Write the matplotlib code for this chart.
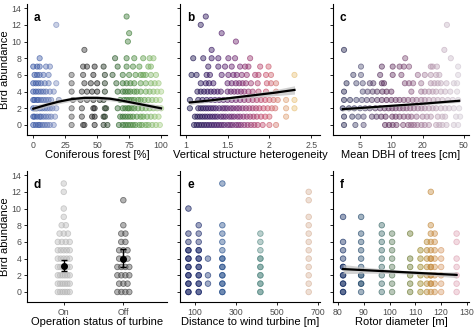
import numpy as np
import matplotlib
matplotlib.use("Agg")
import matplotlib.pyplot as plt
from matplotlib.colors import LinearSegmentedColormap, to_rgba
from matplotlib.ticker import FixedLocator, NullLocator, FuncFormatter

plt.rcParams['font.family'] = ['Liberation Sans', 'DejaVu Sans']

# --- a: coniferous forest [%], x values listed per bird count (index = count)
conif_by_count = [
    [0, 2, 4, 5, 7, 9, 11, 13, 16, 30, 39, 40, 48, 55, 58, 67, 70, 72, 74, 76, 78, 80, 83, 85, 88, 90, 93, 96, 99],
    [0, 1, 3, 5, 6, 8, 10, 12, 14, 17, 30, 38, 46, 48, 55, 56, 68, 70, 72, 74, 76, 78, 81, 84, 86, 89, 92, 95, 98],
    [0, 2, 3, 5, 7, 9, 11, 13, 15, 18, 30, 38, 47, 48, 56, 57, 66, 70, 72, 74, 75, 77, 79, 82, 85, 88, 91, 94, 97, 100],
    [0, 1, 3, 4, 6, 8, 10, 12, 14, 20, 31, 37, 42, 47, 52, 55, 68, 71, 73, 75, 77, 79, 82, 84, 87, 90, 93, 96, 99],
    [0, 2, 4, 6, 8, 10, 13, 16, 30, 38, 42, 46, 50, 56, 66, 70, 72, 74, 76, 79, 81, 84, 88, 91, 94, 97, 100],
    [0, 2, 4, 6, 9, 12, 18, 30, 40, 45, 50, 56, 65, 70, 73, 76, 79, 84, 88, 92, 95, 98],
    [1, 3, 5, 8, 12, 30, 39, 47, 56, 62, 70, 75, 80, 84, 86, 88, 92, 96],
    [0, 3, 5, 10, 13, 39, 42, 48, 55, 66, 73, 78, 83, 90, 92],
    [5, 64, 73, 79, 86, 91, 94],
    [40],
    [74],
    [75],
    [18],
    [73],
]
conif_fit_x = [0, 10, 20, 30, 40, 50, 60, 70, 80, 90, 100]
conif_fit_y = [1.95, 2.4, 2.8, 3.1, 3.25, 3.25, 3.15, 2.9, 2.6, 2.3, 2.0]
conif_fit_lo = [1.6, 2.15, 2.55, 2.85, 3.0, 3.0, 2.9, 2.7, 2.4, 2.05, 1.7]
conif_fit_hi = [2.35, 2.7, 3.05, 3.35, 3.5, 3.5, 3.4, 3.15, 2.85, 2.6, 2.35]

# --- b: vertical structure heterogeneity
het_by_count = [
    [1.1, 1.13, 1.16, 1.19, 1.22, 1.25, 1.28, 1.31, 1.34, 1.37, 1.4, 1.43, 1.46, 1.5, 1.53, 1.56, 1.6, 1.63, 1.66, 1.7, 1.74, 1.78, 1.82, 1.86, 1.92, 2.0, 2.08],
    [1.11, 1.14, 1.17, 1.2, 1.23, 1.26, 1.29, 1.32, 1.35, 1.38, 1.42, 1.45, 1.48, 1.52, 1.55, 1.58, 1.62, 1.65, 1.69, 1.73, 1.77, 1.81, 1.85, 1.9, 1.95, 2.0, 2.2],
    [1.05, 1.15, 1.18, 1.21, 1.24, 1.27, 1.3, 1.33, 1.36, 1.4, 1.44, 1.47, 1.5, 1.54, 1.57, 1.61, 1.64, 1.68, 1.72, 1.76, 1.8, 1.84, 1.88, 1.93, 1.98, 2.03, 2.07, 2.2, 2.3],
    [1.05, 1.15, 1.2, 1.25, 1.3, 1.35, 1.4, 1.45, 1.5, 1.55, 1.6, 1.65, 1.7, 1.75, 1.8, 1.85, 1.9, 1.95, 2.0, 2.05, 2.1, 2.2, 2.3],
    [1.14, 1.18, 1.22, 1.26, 1.3, 1.34, 1.38, 1.42, 1.5, 1.54, 1.58, 1.62, 1.66, 1.7, 1.75, 1.8, 1.87, 1.96, 2.08],
    [1.18, 1.24, 1.28, 1.33, 1.5, 1.55, 1.6, 1.64, 1.68, 1.72, 1.78, 1.86, 1.97, 2.02, 2.08],
    [1.07, 1.13, 1.25, 1.29, 1.43, 1.51, 1.57, 1.61, 1.67, 1.73, 1.83, 1.87, 1.96, 2.02, 2.3],
    [1.27, 1.39, 1.47, 1.55, 1.65, 1.71, 1.75, 1.89, 1.99],
    [1.09, 1.21, 1.31, 1.39, 1.51, 1.59, 1.77],
    [1.31],
    [1.6],
    [1.43],
    [1.18],
    [1.24],
]
het_fit_x = [1.05, 1.3, 1.55, 1.8, 2.05, 2.3]
het_fit_y = [2.7, 2.95, 3.25, 3.55, 3.85, 4.2]
het_fit_lo = [2.45, 2.75, 3.05, 3.3, 3.5, 3.7]
het_fit_hi = [2.95, 3.15, 3.45, 3.8, 4.2, 4.7]

# --- c: mean DBH of trees [cm]
dbh_by_count = [
    [3.5, 4.5, 5.4, 8.7, 9.5, 10.3, 11.2, 13, 14.5, 15.5, 16.5, 17.8, 19.5, 21, 23, 27, 29, 31, 34, 40, 44],
    [3.5, 4.2, 4.8, 5.4, 6.5, 7.2, 8.0, 8.8, 10.2, 11, 12, 13.2, 14.5, 15.6, 17.5, 20, 22, 24, 28, 31, 33, 42, 46],
    [3.4, 3.9, 4.4, 5.0, 5.6, 6.2, 7.0, 7.8, 8.6, 9.4, 10.2, 11, 12, 13, 14, 15.2, 16.5, 18, 19.5, 21, 23, 25, 27, 30, 33, 36, 40, 45],
    [3.5, 4.0, 4.6, 5.2, 5.8, 6.5, 7.3, 8.1, 9, 10, 11, 12, 13.2, 14.5, 16, 17.5, 19.4, 21, 23, 25.5, 28, 31, 35, 39, 44],
    [3.5, 5.3, 5.9, 6.6, 7.3, 8.2, 9, 10, 15.6, 19.4, 21, 23, 25, 27, 30, 33, 37, 43],
    [3.7, 4.6, 5.3, 6.2, 6.7, 8.1, 8.5, 13.5, 14.8, 16.2, 19.4, 24, 26, 28, 30, 34, 40, 43],
    [4.3, 5.1, 7.8, 10.3, 12.5, 18, 21, 24, 27, 29, 44],
    [5.1, 8.1, 10.3, 12, 13.2, 14.8, 24, 25, 27.5, 44],
    [13.6, 37.4],
    [3.5, 32.4],
    [],
    [],
    [34.3],
]
dbh_fit_x = [3.4, 6, 10, 20, 45]
dbh_fit_y = [1.9, 2.1, 2.3, 2.55, 2.9]
dbh_fit_lo = [1.7, 1.95, 2.18, 2.42, 2.7]
dbh_fit_hi = [2.1, 2.25, 2.42, 2.68, 3.1]

# --- d: operation status of turbine
status_labels = ['On', 'Off']
on_birds = [0, 0, 0, 0, 0, 0, 1, 1, 1, 1, 1, 1, 2, 2, 2, 2, 2, 2, 3, 3, 3, 3, 3, 3,
            4, 4, 4, 4, 4, 5, 5, 5, 5, 5, 6, 6, 6, 6, 7, 7, 7, 8, 8, 9, 10, 12, 13]
off_birds = [0, 0, 0, 0, 1, 1, 1, 2, 2, 2, 2, 3, 3, 3, 3, 4, 4, 4, 5, 5, 5, 6, 6, 7, 7, 8, 11]
status_mean = [3.1, 4.0]
status_lo = [2.5, 2.95]
status_hi = [3.8, 5.1]

# --- e: distance to wind turbine [m]
dist_m = [70, 120, 165, 235, 420, 655]
dist_birds = [
    [0, 0, 1, 1, 2, 2, 3, 3, 4, 4, 5, 5, 6, 7, 10],
    [0, 0, 1, 1, 2, 2, 3, 3, 4, 4, 5, 5, 6, 7, 8],
    [1, 2, 4],
    [0, 0, 1, 1, 2, 2, 3, 3, 4, 4, 5, 6, 7, 8, 13],
    [0, 0, 1, 1, 2, 2, 3, 3, 4, 4, 5, 6, 7],
    [0, 1, 2, 3, 4, 5, 6, 7, 8, 9, 11, 12],
]

# --- f: rotor diameter [m]
rotor_m = [82, 89, 97, 101, 108, 112, 114.5, 116, 117.5, 120, 126]
rotor_birds = [
    [0, 0, 1, 1, 2, 2, 3, 3, 4, 5, 6, 9],
    [0, 1, 1, 2, 2, 3, 4, 5, 6, 7, 9],
    [0, 1, 2, 3, 4, 5, 6, 7, 8],
    [0, 1, 2, 3, 4, 5, 6, 7],
    [0, 1, 2, 3, 4, 7],
    [0, 1, 2, 3, 4, 5],
    [0, 1, 2, 3, 4, 5, 6],
    [0, 1, 1, 2, 2, 3, 3, 4, 4, 5, 6, 7, 8, 12],
    [0, 1, 2, 3, 4, 5, 6, 7],
    [0, 1, 2, 3, 4, 5],
    [0, 1, 2, 3, 4, 6, 7],
]
rotor_fit_x = [82, 93, 104, 115, 126]
rotor_fit_y = [2.75, 2.57, 2.4, 2.22, 2.05]
rotor_fit_lo = [2.2, 2.25, 2.2, 2.0, 1.7]
rotor_fit_hi = [3.3, 2.9, 2.6, 2.45, 2.4]


def ramp(stops, lo, hi, log=False):
    # colour ramp anchored at data values
    vals = np.array([s[0] for s in stops], float)
    if log:
        vals, lo, hi = np.log10(vals), np.log10(lo), np.log10(hi)
    pos = (vals - lo) / (hi - lo)
    cmap = LinearSegmentedColormap.from_list('r', list(zip(pos, [s[1] for s in stops])))
    def colour(x):
        x = np.asarray(x, float)
        if log:
            x = np.log10(x)
        return cmap(np.clip((x - lo) / (hi - lo), 0, 1))
    return colour


def points(ax, xs, ys, cols, s=14):
    cols = np.asarray(cols)
    face = cols.copy(); face[:, 3] = 0.42
    edge = cols.copy(); edge[:, 3] = 0.7
    ax.scatter(xs, ys, s=s, c=face, edgecolors=edge, linewidths=0.6, zorder=2)


def flatten(rows):
    xs, ys = [], []
    for n, row in enumerate(rows):
        xs += list(row)
        ys += [n] * len(row)
    return xs, ys


def fit(ax, x, y, lo, hi):
    ax.fill_between(x, lo, hi, color='#c4c4c4', alpha=0.75, lw=0, zorder=3)
    ax.plot(x, y, color='black', lw=1.6, zorder=4)


def style(ax, letter, xlabel, first):
    for side in ['top', 'right']:
        ax.spines[side].set_visible(False)
    for side in ['left', 'bottom']:
        ax.spines[side].set_linewidth(0.8)
    ax.set_ylim(-1.2, 14.5)
    ax.yaxis.set_major_locator(FixedLocator(range(0, 15, 2)))
    ax.tick_params(length=2.5, width=0.6, labelsize=6.3, labelcolor='#4d4d4d', pad=1.5)
    if first:
        ax.set_ylabel('Bird abundance', fontsize=8, labelpad=1)
    else:
        ax.set_yticklabels([])
    ax.set_xlabel(xlabel, fontsize=8, labelpad=0.5)
    ax.text(0.05, 0.94, letter, transform=ax.transAxes, fontsize=8.5,
            fontweight='bold', va='top')


fig = plt.figure(figsize=(4.74, 3.30), dpi=100)
W, H = 474, 330
lefts = [27, 180, 333]
widths = [140, 140, 136]
top_b, bot_b, axh = 135, 302, 131
axes = []
for b in [top_b, bot_b]:
    for l, w in zip(lefts, widths):
        axes.append(fig.add_axes([l / W, 1 - b / H, w / W, axh / H]))
ax_a, ax_b, ax_c, ax_d, ax_e, ax_f = axes

# a
col_a = ramp([(0, '#2f4fa0'), (18, '#7f8fc0'), (30, '#505050'), (50, '#151515'),
              (68, '#2e6a2e'), (85, '#5a9a48'), (100, '#a8d088')], 0, 100)
x, y = flatten(conif_by_count)
points(ax_a, x, y, col_a(x))
fit(ax_a, conif_fit_x, conif_fit_y, conif_fit_lo, conif_fit_hi)
ax_a.set_xlim(-4.9, 104.6)
ax_a.xaxis.set_major_locator(FixedLocator([0, 25, 50, 75, 100]))
style(ax_a, 'a', 'Coniferous forest [%]', True)

# b
col_b = ramp([(1.05, '#15124a'), (1.35, '#3a1563'), (1.65, '#7a2a72'),
              (1.95, '#c84f6e'), (2.3, '#e8c27a')], 1.05, 2.3)
x, y = flatten(het_by_count)
points(ax_b, x, y, col_b(x))
fit(ax_b, het_fit_x, het_fit_y, het_fit_lo, het_fit_hi)
ax_b.set_xlim(0.932, 2.605)
ax_b.xaxis.set_major_locator(FixedLocator([1, 1.5, 2, 2.5]))
ax_b.xaxis.set_major_formatter(FuncFormatter(lambda v, p: f'{v:g}'))
style(ax_b, 'b', 'Vertical structure heterogeneity', False)

# c
col_c = ramp([(3.4, '#1c1e48'), (5, '#55557a'), (9, '#5a2a58'), (15, '#8a5a80'),
              (25, '#b89ab0'), (45, '#d4ccd6')], 3.4, 45, log=True)
x, y = flatten(dbh_by_count)
points(ax_c, x, y, col_c(x))
fit(ax_c, dbh_fit_x, dbh_fit_y, dbh_fit_lo, dbh_fit_hi)
ax_c.set_xscale('log')
ax_c.set_xlim(2.74, 56)
ax_c.xaxis.set_major_locator(FixedLocator([5, 10, 20, 50]))
ax_c.xaxis.set_minor_locator(NullLocator())
ax_c.xaxis.set_major_formatter(FuncFormatter(lambda v, p: f'{v:g}'))
style(ax_c, 'c', 'Mean DBH of trees [cm]', False)

# d: points spread sideways within each count so they do not sit on top of each other
for i, (birds, colour) in enumerate([(on_birds, '#b8b8b8'), (off_birds, '#4a4a4a')]):
    xs, ys = [], []
    for n in sorted(set(birds)):
        k = birds.count(n)
        w = min(0.035 * (k - 1), 0.1)
        xs += list(i + 1 + np.linspace(-w, w, k))
        ys += [n] * k
    points(ax_d, xs, ys, [to_rgba(colour)] * len(xs), s=16)
pos = [1, 2]
ax_d.errorbar(pos, status_mean,
              yerr=[np.subtract(status_mean, status_lo), np.subtract(status_hi, status_mean)],
              fmt='o', color='black', ms=4, capsize=2.5, elinewidth=1.0, capthick=1.0, zorder=5)
ax_d.set_xlim(0.383, 2.733)
ax_d.set_xticks(pos)
ax_d.set_xticklabels(status_labels)
style(ax_d, 'd', 'Operation status of turbine', True)

# e
col_e = ramp([(70, '#0f1a5c'), (120, '#1b2a6c'), (235, '#27508c'), (420, '#5a8e88'),
              (655, '#d8b49c')], 70, 655)
for d, birds in zip(dist_m, dist_birds):
    xs = [d] * len(birds)
    points(ax_e, xs, birds, col_e(xs), s=16)
ax_e.set_xlim(29, 710)
ax_e.xaxis.set_major_locator(FixedLocator([100, 300, 500, 700]))
style(ax_e, 'e', 'Distance to wind turbine [m]', False)

# f
col_f = ramp([(82, '#112a60'), (89, '#244a6c'), (97, '#3c6a6a'), (101, '#587a5a'),
              (108, '#6c7a30'), (112, '#9c8a2c'), (116, '#c48c40'), (120, '#d89c68'),
              (126, '#e0a8b8')], 82, 126)
for r, birds in zip(rotor_m, rotor_birds):
    xs = [r] * len(birds)
    points(ax_f, xs, birds, col_f(xs), s=16)
fit(ax_f, rotor_fit_x, rotor_fit_y, rotor_fit_lo, rotor_fit_hi)
ax_f.set_xlim(78.1, 130.8)
ax_f.xaxis.set_major_locator(FixedLocator([80, 90, 100, 110, 120, 130]))
style(ax_f, 'f', 'Rotor diameter [m]', False)

fig.savefig('out.png', dpi=100)
